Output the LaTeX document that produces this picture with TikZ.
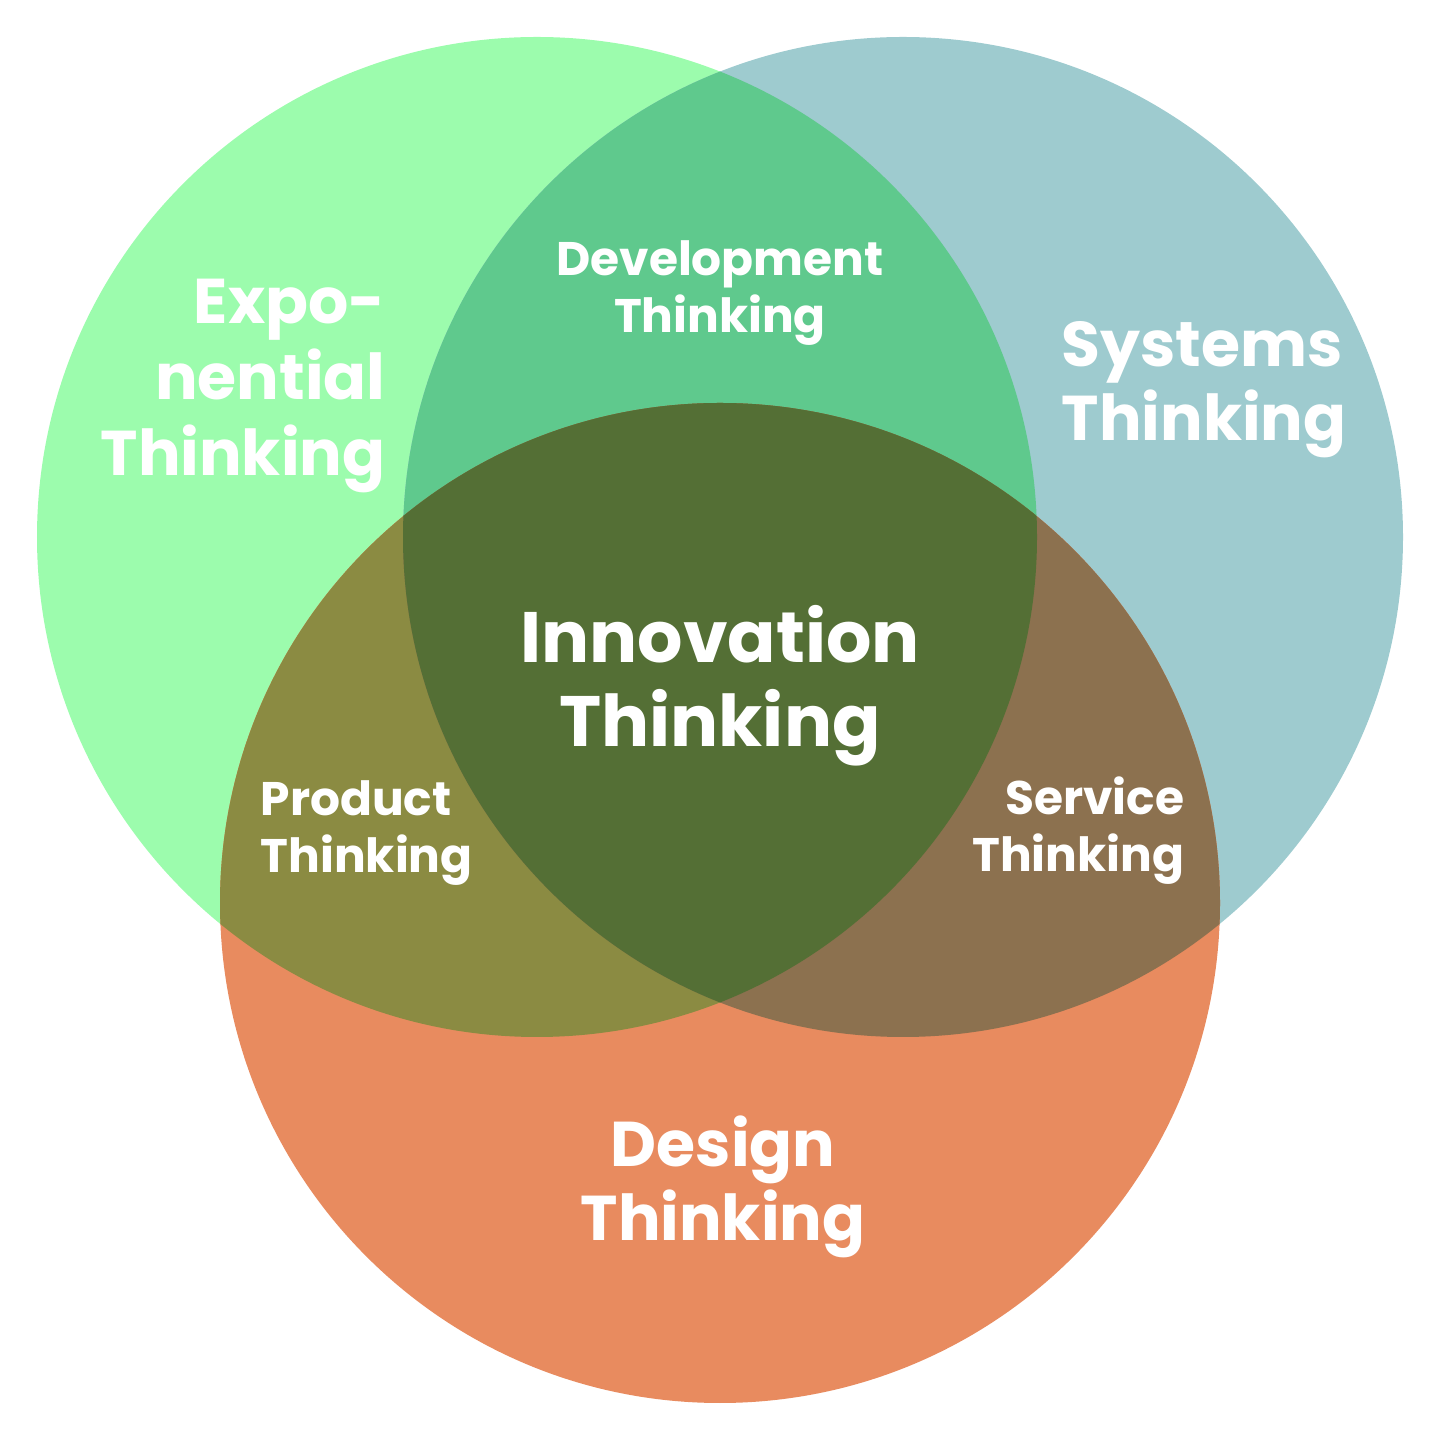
\documentclass[tikz,border=0pt]{standalone}
\usepackage{fontspec}
\setmainfont{Poppins}[BoldFont={* Bold}]
\definecolor{expgreen}{HTML}{9CFCAD}
\definecolor{systeal}{HTML}{9ECBCF}
\definecolor{desorange}{HTML}{E88B5F}
\definecolor{devgreen}{HTML}{5FC98D}
\definecolor{prodolive}{HTML}{8B8B42}
\definecolor{servbrown}{HTML}{8C714F}
\definecolor{innogreen}{HTML}{546F35}
\tikzset{
  bigtxt/.style={text=white,inner sep=0pt,font=\bfseries\fontsize{18}{21}\selectfont},
  centertxt/.style={text=white,inner sep=0pt,align=center,font=\bfseries\fontsize{20.3}{23.9}\selectfont},
  smalltxt/.style={text=white,inner sep=0pt,font=\bfseries\fontsize{13.4}{16.1}\selectfont}
}
\begin{document}
\begin{tikzpicture}
	\useasboundingbox (0,0) rectangle (14.4,14.4);
	\def\circE{(5.37,9.03) circle (5)}
	\def\circS{(9.03,9.03) circle (5)}
	\def\circD{(7.20,5.37) circle (5)}
	\fill[expgreen] \circE;
	\fill[systeal] \circS;
	\fill[desorange] \circD;
	\begin{scope}
		\clip \circE;
		\fill[devgreen] \circS;
		\fill[prodolive] \circD;
	\end{scope}
	\begin{scope}
		\clip \circS;
		\fill[servbrown] \circD;
		\clip \circE;
		\fill[innogreen] \circD;
	\end{scope}
	\node[bigtxt,font=\bfseries\fontsize{18}{21.7}\selectfont,align=right,anchor=north east] (expo) at (3.86,11.62) {Expo-\\nential\\Thinking};
	\node[bigtxt,align=left,anchor=north west] (sys) at (10.61,11.19) {Systems\\Thinking};
	\node[bigtxt,align=center,anchor=north] (des) at (7.23,3.25) {Design\\Thinking};
	\node[centertxt,anchor=north] (inno) at (7.20,8.35) {Innovation\\Thinking};
	\node[smalltxt,align=center,anchor=north] (dev) at (7.20,12.00) {Development\\Thinking};
	\node[smalltxt,align=left,anchor=north west] (prod) at (2.60,6.60) {Product\\Thinking};
	\node[smalltxt,align=right,anchor=north east] (serv) at (11.85,6.64) {Service\\Thinking};
\end{tikzpicture}
\end{document}
